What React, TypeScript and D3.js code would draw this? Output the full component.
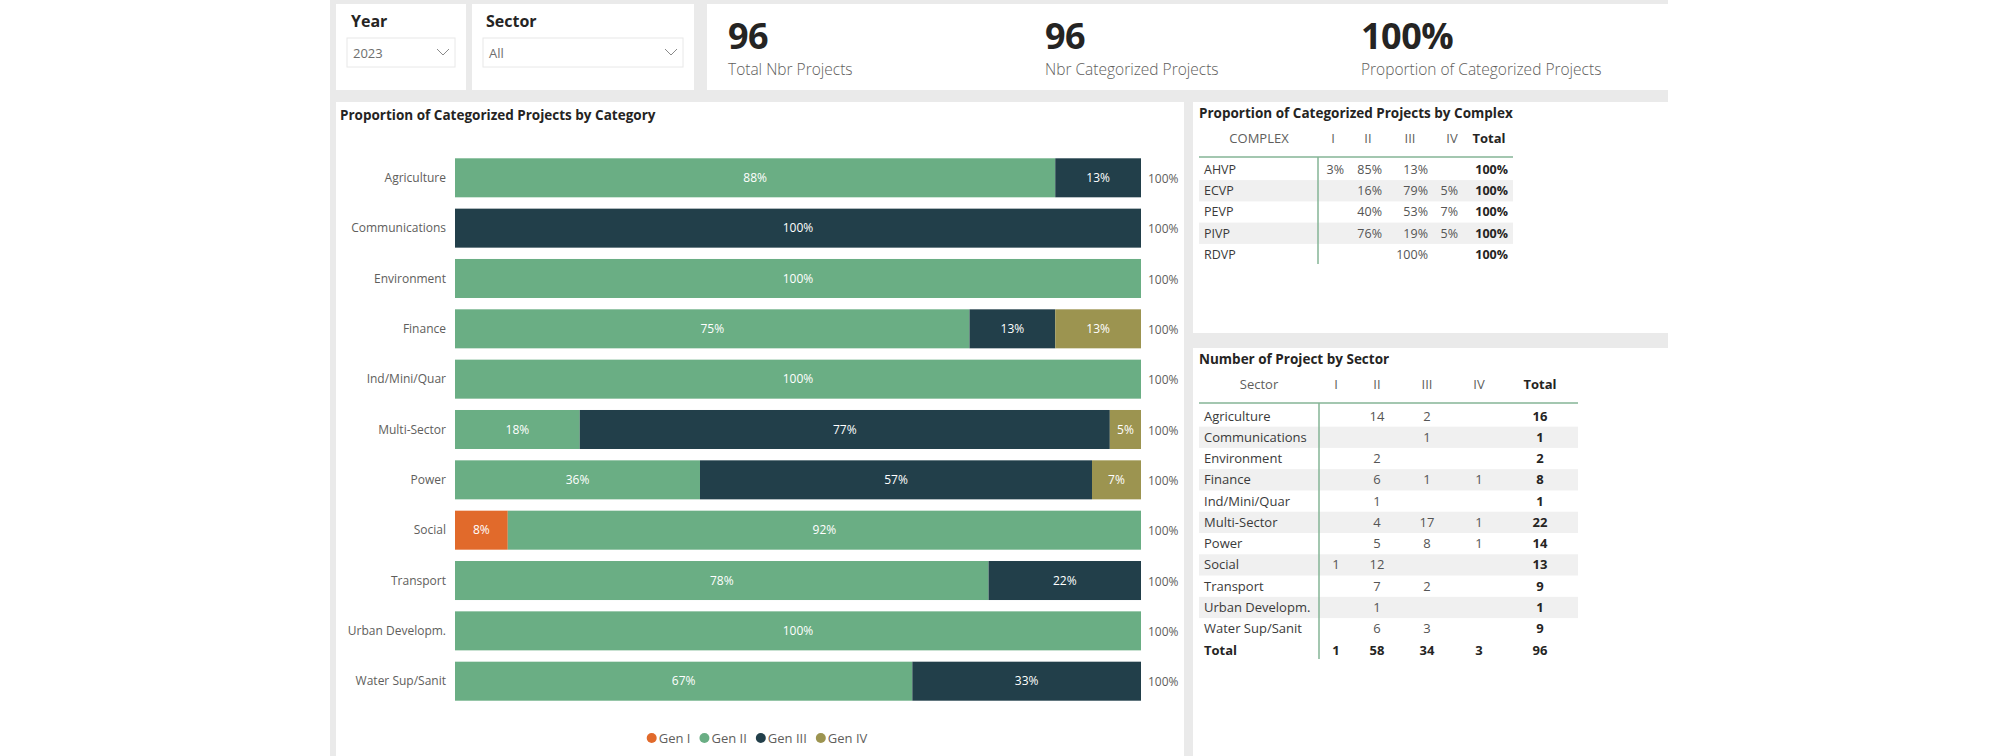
import { useEffect, useRef } from "react"
import * as d3 from "d3"

// Project counts per sector, by generation (I..IV)
const sectors = [
  "Agriculture",
  "Communications",
  "Environment",
  "Finance",
  "Ind/Mini/Quar",
  "Multi-Sector",
  "Power",
  "Social",
  "Transport",
  "Urban Developm.",
  "Water Sup/Sanit",
]
const countGenI = [0, 0, 0, 0, 0, 0, 0, 1, 0, 0, 0]
const countGenII = [14, 0, 2, 6, 1, 4, 5, 12, 7, 1, 6]
const countGenIII = [2, 1, 0, 1, 0, 17, 8, 0, 2, 0, 3]
const countGenIV = [0, 0, 0, 1, 0, 1, 1, 0, 0, 0, 0]

const genKeys = ["I", "II", "III", "IV"]
const genNames = ["Gen I", "Gen II", "Gen III", "Gen IV"]
const genColors = ["#E16A2B", "#6AAE84", "#223F4A", "#9C9450"]

// Share of categorized projects per complex (%), null = empty cell
const complexes = ["AHVP", "ECVP", "PEVP", "PIVP", "RDVP"]
const complexGenI = [3, null, null, null, null]
const complexGenII = [85, 16, 40, 76, null]
const complexGenIII = [13, 79, 53, 19, 100]
const complexGenIV = [null, 5, 7, 5, null]
const complexTotal = [100, 100, 100, 100, 100]

const yearSelected = "2023"
const sectorSelected = "All"

const FONT = "'Segoe UI', 'Open Sans', sans-serif"
const BG = "#EAEAEA"
const TEXT_DARK = "#252423"
const TEXT_GRAY = "#605E5C"
const BAND = "#F0F0F0"
const RULE = "#84B496"

interface SectorRow {
  sector: string
  I: number
  II: number
  III: number
  IV: number
}

const App = () => {
  const svgRef = useRef<SVGSVGElement | null>(null)

  useEffect(() => {
    if (!svgRef.current) return
    const svg = d3.select(svgRef.current)
    svg.selectAll("*").remove()

    const rows: SectorRow[] = sectors.map((s, i) => ({
      sector: s,
      I: countGenI[i],
      II: countGenII[i],
      III: countGenIII[i],
      IV: countGenIV[i],
    }))
    const genCounts = [countGenI, countGenII, countGenIII, countGenIV]
    const totalProjects = d3.sum(genCounts.flat())
    const categorized = d3.sum(rows, (r) => r.I + r.II + r.III + r.IV)
    const pct = d3.format(".0%")

    // page background + panels
    svg.append("rect").attr("x", 330).attr("y", 0).attr("width", 1338).attr("height", 756).attr("fill", BG)
    const panels = [
      [336, 4, 130, 86],
      [472, 4, 222, 86],
      [707, 4, 961, 86],
      [336, 102, 848, 654],
      [1193, 102, 475, 231],
      [1193, 348, 475, 408],
    ]
    svg
      .selectAll(".panel")
      .data(panels)
      .join("rect")
      .attr("class", "panel")
      .attr("x", (d) => d[0])
      .attr("y", (d) => d[1])
      .attr("width", (d) => d[2])
      .attr("height", (d) => d[3])
      .attr("fill", "#fff")

    // slicers
    const slicers = [
      { title: "Year", value: yearSelected, x: 351, boxX: 347, boxW: 108 },
      { title: "Sector", value: sectorSelected, x: 486, boxX: 483, boxW: 200 },
    ]
    slicers.forEach((s) => {
      const g = svg.append("g")
      g.append("text")
        .attr("x", s.x)
        .attr("y", 27)
        .attr("font-size", 16)
        .attr("font-weight", 700)
        .attr("fill", TEXT_DARK)
        .text(s.title)
      g.append("rect")
        .attr("x", s.boxX)
        .attr("y", 38)
        .attr("width", s.boxW)
        .attr("height", 29)
        .attr("fill", "#fff")
        .attr("stroke", "#E8E8E8")
      g.append("text")
        .attr("x", s.boxX + 6)
        .attr("y", 53)
        .attr("dy", "0.35em")
        .attr("font-size", 13)
        .attr("fill", "#6E6E6E")
        .text(s.value)
      const cx = s.boxX + s.boxW - 12
      g.append("path")
        .attr("d", `M${cx - 6},${49}L${cx},${55}L${cx + 6},${49}`)
        .attr("fill", "none")
        .attr("stroke", "#8A8A8A")
        .attr("stroke-width", 1)
    })

    // KPI cards
    const kpis = [
      { value: d3.format(",")(totalProjects), label: "Total Nbr Projects", x: 728 },
      { value: d3.format(",")(categorized), label: "Nbr Categorized Projects", x: 1045 },
      { value: pct(categorized / totalProjects), label: "Proportion of Categorized Projects", x: 1361 },
    ]
    kpis.forEach((k) => {
      svg
        .append("text")
        .attr("x", k.x)
        .attr("y", 49)
        .attr("font-size", 36)
        .attr("font-weight", 700)
        .attr("fill", TEXT_DARK)
        .attr("letter-spacing", -0.5)
        .text(k.value)
      svg
        .append("text")
        .attr("x", k.x)
        .attr("y", 75)
        .attr("font-size", 15.5)
        .attr("font-weight", 300)
        .attr("fill", TEXT_GRAY)
        .text(k.label)
    })

    // stacked 100% bar chart
    const chart = svg.append("g")
    chart
      .append("text")
      .attr("x", 340)
      .attr("y", 120)
      .attr("font-size", 13.5)
      .attr("font-weight", 700)
      .attr("fill", TEXT_DARK)
      .text("Proportion of Categorized Projects by Category")

    const stacked = d3
      .stack<SectorRow>()
      .keys(genKeys)
      .offset(d3.stackOffsetExpand)(rows)

    const x = d3.scaleLinear().domain([0, 1]).range([455, 1141])
    const y = d3.scaleBand<string>().domain(sectors).range([158.3, 700.7]).paddingInner(0.225).paddingOuter(0)

    chart
      .selectAll(".cat-label")
      .data(sectors)
      .join("text")
      .attr("class", "cat-label")
      .attr("x", 446)
      .attr("y", (d) => (y(d) ?? 0) + y.bandwidth() / 2)
      .attr("dy", "0.35em")
      .attr("text-anchor", "end")
      .attr("font-size", 12)
      .attr("fill", TEXT_GRAY)
      .text((d) => d)

    stacked.forEach((layer, li) => {
      const segs = layer.filter((d) => d[1] - d[0] > 0)
      chart
        .selectAll(`.seg-${li}`)
        .data(segs)
        .join("rect")
        .attr("class", `seg-${li}`)
        .attr("x", (d) => x(d[0]))
        .attr("y", (d) => y(d.data.sector) ?? 0)
        .attr("width", (d) => x(d[1]) - x(d[0]))
        .attr("height", y.bandwidth())
        .attr("fill", genColors[li])
      chart
        .selectAll(`.seg-label-${li}`)
        .data(segs)
        .join("text")
        .attr("class", `seg-label-${li}`)
        .attr("x", (d) => (x(d[0]) + x(d[1])) / 2)
        .attr("y", (d) => (y(d.data.sector) ?? 0) + y.bandwidth() / 2)
        .attr("dy", "0.35em")
        .attr("text-anchor", "middle")
        .attr("font-size", 12)
        .attr("fill", "#fff")
        .text((d) => pct(d[1] - d[0]))
    })

    // row totals to the right of each bar
    chart
      .selectAll(".row-total")
      .data(sectors)
      .join("text")
      .attr("class", "row-total")
      .attr("x", x(1) + 7)
      .attr("y", (d) => (y(d) ?? 0) + y.bandwidth() / 2 + 1)
      .attr("dy", "0.35em")
      .attr("font-size", 12)
      .attr("fill", TEXT_GRAY)
      .text((d) => {
        const last = stacked[stacked.length - 1].find((s) => s.data.sector === d)
        return pct(last ? last[1] : 0)
      })

    // legend, centered under the plot
    const legend = chart.append("g")
    let lx = 0
    genNames.forEach((name, i) => {
      const item = legend.append("g").attr("transform", `translate(${lx},0)`)
      item.append("circle").attr("cx", 5).attr("cy", 0).attr("r", 5).attr("fill", genColors[i])
      const t = item
        .append("text")
        .attr("x", 12)
        .attr("y", 0)
        .attr("dy", "0.35em")
        .attr("font-size", 13)
        .attr("fill", TEXT_GRAY)
        .text(name)
      const w = (t.node() as SVGTextElement).getComputedTextLength()
      lx += 12 + w + 9
    })
    const legendW = lx - 9
    legend.attr("transform", `translate(${757 - legendW / 2},738)`)

    // table: share by complex
    const t1 = svg.append("g")
    t1.append("text")
      .attr("x", 1199)
      .attr("y", 118)
      .attr("font-size", 13.5)
      .attr("font-weight", 700)
      .attr("fill", TEXT_DARK)
      .text("Proportion of Categorized Projects by Complex")

    const cy = d3.scalePoint<string>().domain(complexes).range([169.5, 254.5])
    const cStep = cy.step()
    complexes.forEach((c, i) => {
      if (i % 2 === 1) {
        t1.append("rect")
          .attr("x", 1199)
          .attr("y", (cy(c) ?? 0) - cStep / 2)
          .attr("width", 314)
          .attr("height", cStep)
          .attr("fill", BAND)
      }
    })
    const complexHead = [
      { label: "COMPLEX", x: 1259, bold: false },
      { label: "I", x: 1333, bold: false },
      { label: "II", x: 1368, bold: false },
      { label: "III", x: 1410, bold: false },
      { label: "IV", x: 1452, bold: false },
      { label: "Total", x: 1489, bold: true },
    ]
    complexHead.forEach((h) => {
      t1.append("text")
        .attr("x", h.x)
        .attr("y", 138)
        .attr("dy", "0.35em")
        .attr("text-anchor", "middle")
        .attr("font-size", 13)
        .attr("font-weight", h.bold ? 700 : 400)
        .attr("fill", h.bold ? TEXT_DARK : TEXT_GRAY)
        .text(h.label)
    })
    const complexCols = [
      { values: complexGenI, right: 1344, bold: false },
      { values: complexGenII, right: 1382, bold: false },
      { values: complexGenIII, right: 1428, bold: false },
      { values: complexGenIV, right: 1458, bold: false },
      { values: complexTotal, right: 1508, bold: true },
    ]
    complexes.forEach((c, i) => {
      const ry = cy(c) ?? 0
      t1.append("text")
        .attr("x", 1204)
        .attr("y", ry)
        .attr("dy", "0.35em")
        .attr("font-size", 12.5)
        .attr("fill", "#3A3A3A")
        .text(c)
      complexCols.forEach((col) => {
        const v = col.values[i]
        if (v == null) return
        t1.append("text")
          .attr("x", col.right)
          .attr("y", ry)
          .attr("dy", "0.35em")
          .attr("text-anchor", "end")
          .attr("font-size", 12.5)
          .attr("font-weight", col.bold ? 700 : 400)
          .attr("fill", col.bold ? TEXT_DARK : "#555")
          .text(`${v}%`)
      })
    })
    t1.append("line").attr("x1", 1199).attr("x2", 1513).attr("y1", 157).attr("y2", 157).attr("stroke", RULE).attr("stroke-width", 1.5)
    t1.append("line").attr("x1", 1318).attr("x2", 1318).attr("y1", 157).attr("y2", 264).attr("stroke", RULE).attr("stroke-width", 1.5)

    // table: project count by sector
    const t2 = svg.append("g")
    t2.append("text")
      .attr("x", 1199)
      .attr("y", 364)
      .attr("font-size", 13.5)
      .attr("font-weight", 700)
      .attr("fill", TEXT_DARK)
      .text("Number of Project by Sector")

    const rowNames = [...sectors, "Total"]
    const sy = d3.scalePoint<string>().domain(rowNames).range([416, 650])
    const sStep = sy.step()
    rowNames.forEach((r, i) => {
      if (i % 2 === 1 && r !== "Total") {
        t2.append("rect")
          .attr("x", 1199)
          .attr("y", (sy(r) ?? 0) - sStep / 2)
          .attr("width", 379)
          .attr("height", sStep)
          .attr("fill", BAND)
      }
    })
    const colX = [1336, 1377, 1427, 1479]
    const totalX = 1540
    t2.append("text")
      .attr("x", 1259)
      .attr("y", 384)
      .attr("dy", "0.35em")
      .attr("text-anchor", "middle")
      .attr("font-size", 13)
      .attr("fill", TEXT_GRAY)
      .text("Sector")
    genKeys.forEach((k, i) => {
      t2.append("text")
        .attr("x", colX[i])
        .attr("y", 384)
        .attr("dy", "0.35em")
        .attr("text-anchor", "middle")
        .attr("font-size", 13)
        .attr("fill", TEXT_GRAY)
        .text(k)
    })
    t2.append("text")
      .attr("x", totalX)
      .attr("y", 384)
      .attr("dy", "0.35em")
      .attr("text-anchor", "middle")
      .attr("font-size", 13)
      .attr("font-weight", 700)
      .attr("fill", TEXT_DARK)
      .text("Total")

    rows.forEach((r) => {
      const ry = sy(r.sector) ?? 0
      t2.append("text")
        .attr("x", 1204)
        .attr("y", ry)
        .attr("dy", "0.35em")
        .attr("font-size", 13)
        .attr("fill", "#3A3A3A")
        .text(r.sector)
      genKeys.forEach((k, i) => {
        const v = r[k as keyof SectorRow] as number
        if (!v) return
        t2.append("text")
          .attr("x", colX[i])
          .attr("y", ry)
          .attr("dy", "0.35em")
          .attr("text-anchor", "middle")
          .attr("font-size", 13)
          .attr("fill", "#555")
          .text(v)
      })
      t2.append("text")
        .attr("x", totalX)
        .attr("y", ry)
        .attr("dy", "0.35em")
        .attr("text-anchor", "middle")
        .attr("font-size", 13)
        .attr("font-weight", 700)
        .attr("fill", TEXT_DARK)
        .text(r.I + r.II + r.III + r.IV)
    })
    // grand total row
    const ty = sy("Total") ?? 0
    t2.append("text")
      .attr("x", 1204)
      .attr("y", ty)
      .attr("dy", "0.35em")
      .attr("font-size", 13)
      .attr("font-weight", 700)
      .attr("fill", TEXT_DARK)
      .text("Total")
    genCounts.forEach((arr, i) => {
      t2.append("text")
        .attr("x", colX[i])
        .attr("y", ty)
        .attr("dy", "0.35em")
        .attr("text-anchor", "middle")
        .attr("font-size", 13)
        .attr("font-weight", 700)
        .attr("fill", TEXT_DARK)
        .text(d3.sum(arr))
    })
    t2.append("text")
      .attr("x", totalX)
      .attr("y", ty)
      .attr("dy", "0.35em")
      .attr("text-anchor", "middle")
      .attr("font-size", 13)
      .attr("font-weight", 700)
      .attr("fill", TEXT_DARK)
      .text(totalProjects)
    t2.append("line").attr("x1", 1199).attr("x2", 1578).attr("y1", 403).attr("y2", 403).attr("stroke", RULE).attr("stroke-width", 1.5)
    t2.append("line").attr("x1", 1319).attr("x2", 1319).attr("y1", 403).attr("y2", 659).attr("stroke", RULE).attr("stroke-width", 1.5)
  }, [])

  return (
    <svg
      ref={svgRef}
      width={2000}
      height={756}
      style={{ position: "absolute", left: 0, top: 0, fontFamily: FONT, background: "#fff" }}
    />
  )
}

export default App
